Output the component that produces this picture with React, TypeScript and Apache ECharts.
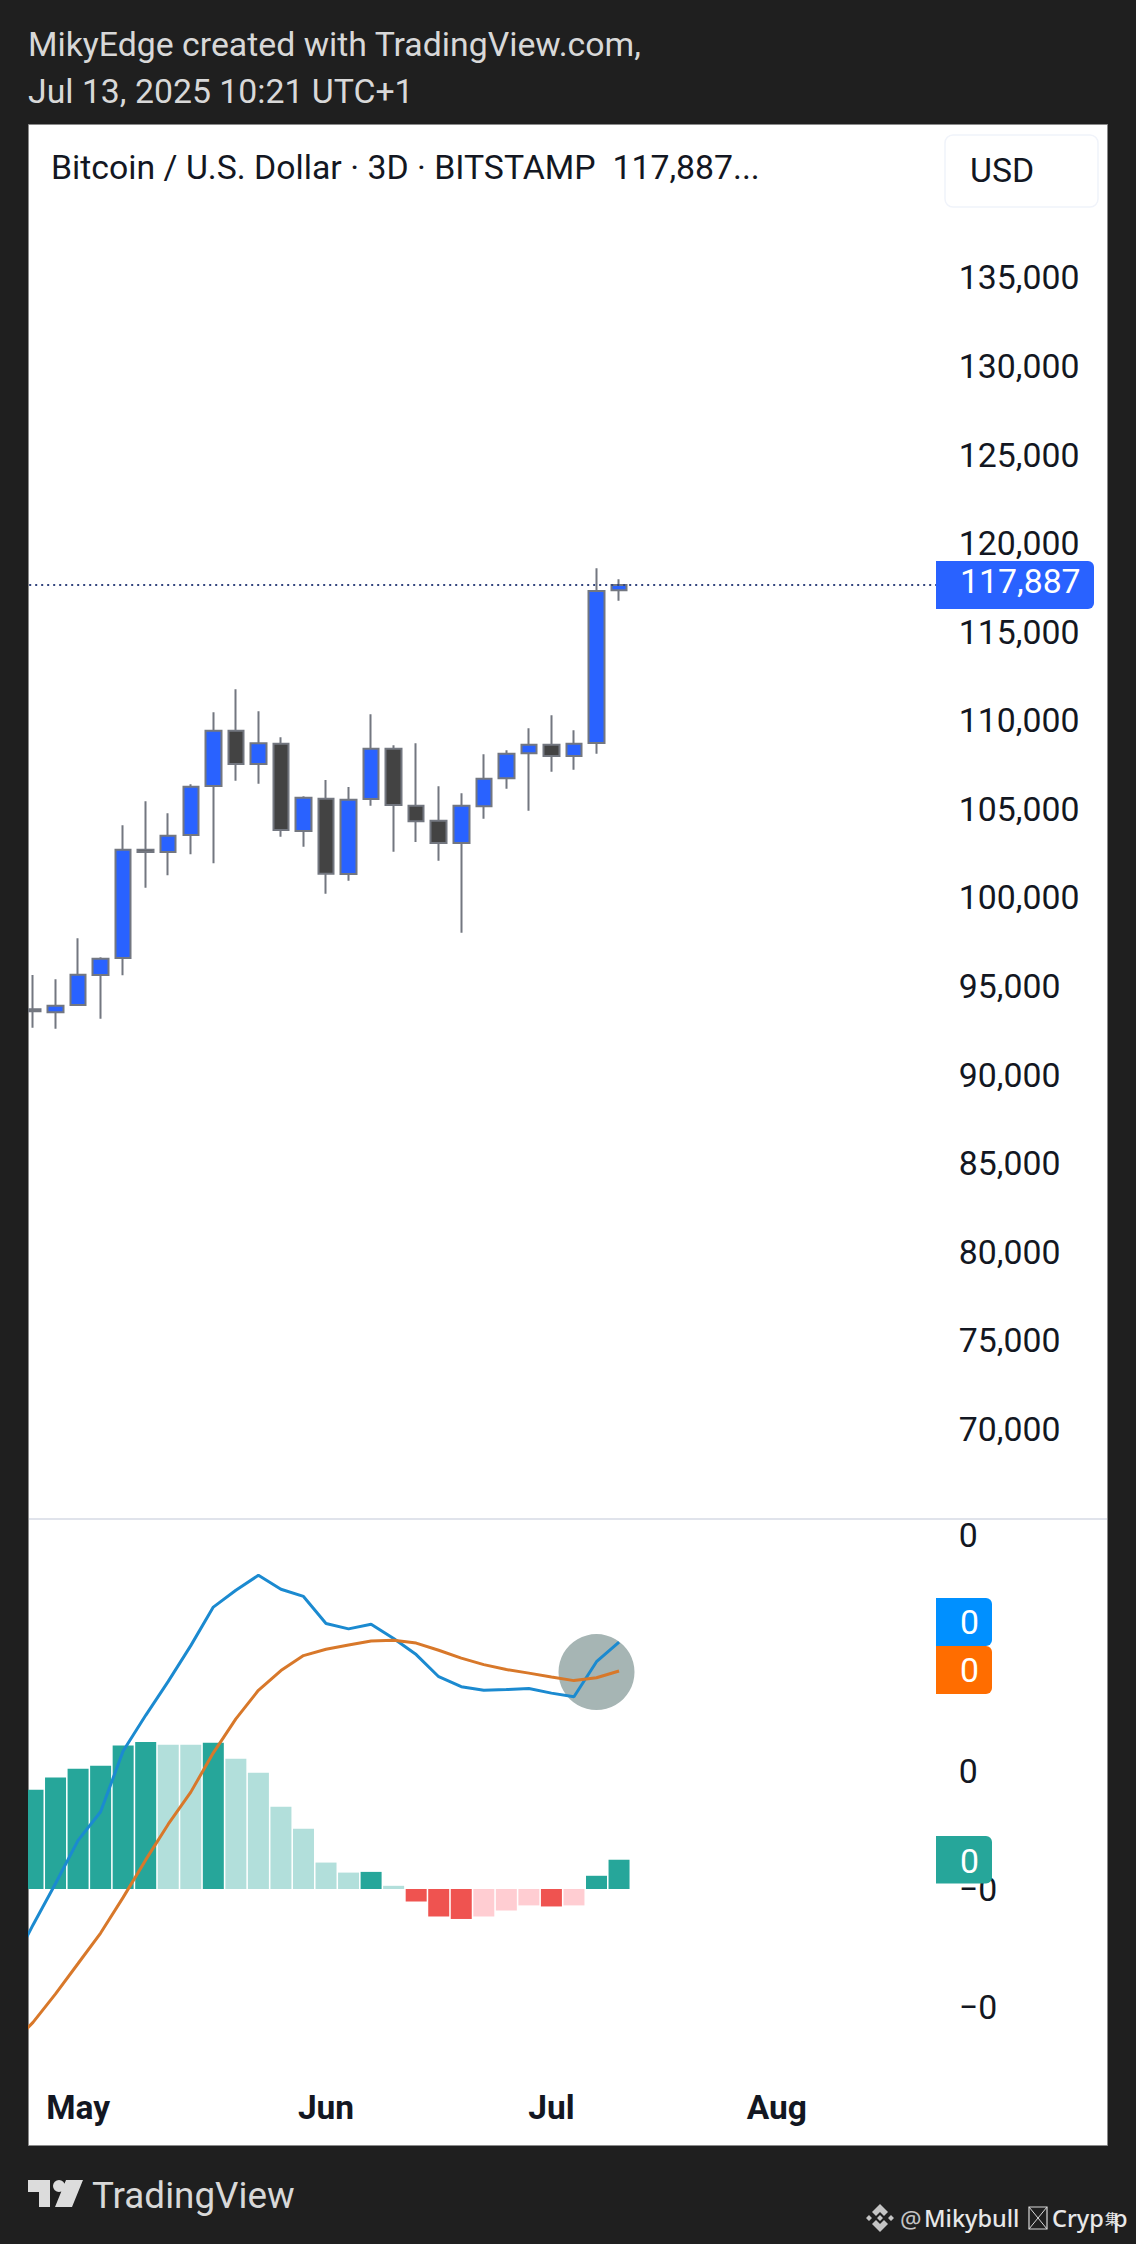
import React, { useEffect, useRef } from "react";
import * as echarts from "echarts";

const startDate = Date.UTC(2025, 3, 22);
const categories: string[] = Array.from({ length: 42 }, (_, i) =>
  new Date(startDate + i * 3 * 86400000).toISOString().slice(0, 10)
);
const monthLabels: Record<string, string> = {
  "2025-05-01": "May",
  "2025-06-03": "Jun",
  "2025-07-03": "Jul",
  "2025-08-02": "Aug",
};

// open, close, low, high — the leading "-" is the bar just left of the visible range
const candles: (number[] | string)[] = [
  "-",
  [93933, 93820, 92898, 95871],
  [93763, 94140, 92842, 95627],
  [94177, 95889, 94177, 97940],
  [95871, 96793, 93406, 96868],
  [96830, 102946, 95852, 104319],
  [102946, 102814, 100801, 105674],
  [102814, 103737, 101497, 104997],
  [103774, 106502, 102683, 106634],
  [106540, 109664, 102174, 110699],
  [109664, 107782, 106841, 111997],
  [107782, 108949, 106672, 110755],
  [108930, 104056, 103680, 109288],
  [103999, 105881, 103115, 105957],
  [105825, 101591, 100462, 106879],
  [101572, 105769, 101196, 106484],
  [105806, 108648, 105430, 110586],
  [108648, 105467, 102833, 108836],
  [105430, 104545, 103379, 108949],
  [104583, 103322, 102325, 106521],
  [103322, 105430, 98261, 106126],
  [105392, 106954, 104696, 108328],
  [106973, 108365, 106389, 108553],
  [108384, 108874, 105148, 109795],
  [108874, 108234, 107349, 110529],
  [108234, 108930, 107462, 109682],
  [108967, 117548, 108365, 118827],
  [117586, 117887, 117002, 118207],
];
const lastPrice = 117887;

const macdLine: number[] = [
  -1354, -609, 93, 825, 1310, 2339, 2944, 3519, 4125, 4778, 5063, 5317, 5081, 4959,
  4500, 4409, 4488, 4246, 3973, 3598, 3429, 3368, 3380, 3398, 3320, 3259, 3852, 4185,
];
const signalLine: number[] = [
  -2654, -2261, -1778, -1263, -747, -142, 493, 1098, 1642, 2308, 2883, 3368, 3702, 3956,
  4064, 4137, 4203, 4215, 4168, 4046, 3914, 3803, 3719, 3659, 3592, 3532, 3580, 3695,
];
const histValues: (number | null)[] = [
  null, 1682, 1888, 2039, 2087, 2432, 2493, 2444, 2444, 2480, 2208, 1972, 1392, 1022,
  448, 278, 290, 54, -212, -466, -508, -466, -363, -278, -296, -278, 224, 496,
];
// d = strong shade, l = pale shade
const histShadeList: string[] = [
  "-", "d", "d", "d", "d", "d", "d", "l", "l", "d", "l", "l", "l", "l",
  "l", "l", "d", "l", "d", "d", "d", "l", "l", "l", "d", "l", "d", "d",
];
const highlightIndex = 26;
const highlightValue = 3676;

const priceTicks = [70000, 135000];

const C = {
  dark: "#1f1f1f",
  up: "#2962ff",
  down: "#434343",
  wick: "#737780",
  blue: "#1b8ad0",
  orange: "#d8782a",
  teal: "#26a69a",
  tealPale: "#b2dfdb",
  red: "#ef5350",
  pink: "#ffcdd2",
};

const FONT = "Roboto, sans-serif";
const NOTO = "'Noto Sans', sans-serif";

echarts.graphic.registerShape(
  "tvLogo",
  echarts.graphic.extendPath(
    "M0 0H22V27H11V12H0Z M37 6a6 6 0 1 1-12 0a6 6 0 1 1 12 0Z M38 0H55L44 27H27Z",
    {}
  )
);
echarts.graphic.registerShape(
  "diamondLogo",
  echarts.graphic.extendPath(
    "M14 0L22 8L18 12L14 8L10 12L6 8Z M14 28L6 20L10 16L14 20L18 16L22 20Z M3 11L6 14L3 17L0 14Z M25 11L28 14L25 17L22 14Z M14 11L17 14L14 17L11 14Z",
    {}
  )
);

function label(text: string, x: number, y: number, size: number, fill: string, extra: any = {}) {
  return {
    type: "text",
    x,
    y,
    z: 60,
    style: {
      text,
      fill,
      fontSize: size,
      fontFamily: FONT,
      verticalAlign: "middle",
      align: "left",
      ...extra,
    },
  };
}

function badge(x: number, y: number, w: number, h: number, fill: string, text: string, tx: number, ty: number) {
  return [
    { type: "rect", z: 55, shape: { x, y, width: w, height: h, r: [0, 6, 6, 0] }, style: { fill } },
    label(text, tx, ty, 33.8, "#ffffff"),
  ];
}

export default function App() {
  const ref = useRef<HTMLDivElement>(null);

  useEffect(() => {
    document.body.style.margin = "0";
    document.body.style.background = C.dark;
    const chart = echarts.init(ref.current!, undefined, { renderer: "svg" });

    const gridLeft = -0.81;
    const gridWidth = 946.68;

    chart.setOption({
      animation: false,
      backgroundColor: C.dark,
      grid: [
        { left: gridLeft, width: gridWidth, top: 104.7, height: 1417.2, outerBoundsMode: "none" },
        { left: gridLeft, width: gridWidth, top: 1535, height: 590, outerBoundsMode: "none" },
        // carries the price labels, which sit 4px above the price they name in the original
        { left: gridLeft, width: gridWidth, top: 100.7, height: 1417.2, outerBoundsMode: "none" },
      ],
      xAxis: [
        {
          type: "category",
          gridIndex: 0,
          data: categories,
          show: false,
        },
        {
          type: "category",
          gridIndex: 1,
          data: categories,
          axisLine: { show: false },
          axisTick: { show: false },
          splitLine: { show: false },
          axisLabel: {
            inside: true,
            margin: 1,
            interval: (_: number, v: string) => v in monthLabels,
            formatter: (v: string) => monthLabels[v] ?? "",
            fontFamily: FONT,
            fontSize: 33.5,
            fontWeight: 700,
            color: "#131722",
          },
        },
        {
          type: "category",
          gridIndex: 2,
          data: categories,
          show: false,
        },
      ],
      yAxis: [
        {
          type: "value",
          gridIndex: 0,
          position: "right",
          min: 65000,
          max: 145000,
          interval: 5000,
          show: false,
        },
        {
          type: "value",
          gridIndex: 1,
          position: "right",
          min: -4000,
          max: 6000,
          interval: 2000,
          axisLine: { show: false },
          axisTick: { show: false },
          splitLine: { show: false },
          axisLabel: {
            margin: 13,
            fontFamily: FONT,
            fontSize: 33.8,
            color: "#131722",
            formatter: (v: number) => (v === -4000 ? "" : v > 0 ? "0" : "\u22120"),
          },
        },
        {
          type: "value",
          gridIndex: 2,
          position: "right",
          min: 65000,
          max: 145000,
          interval: 5000,
          axisLine: { show: false },
          axisTick: { show: false },
          splitLine: { show: false },
          axisLabel: {
            margin: 13,
            fontFamily: FONT,
            fontSize: 33.8,
            color: "#131722",
            formatter: (v: number) =>
              v >= priceTicks[0] && v <= priceTicks[1] ? v.toLocaleString("en-US") : "",
          },
        },
      ],
      series: [
        {
          type: "candlestick",
          xAxisIndex: 0,
          yAxisIndex: 0,
          data: candles,
          barWidth: 16,
          itemStyle: {
            color: C.up,
            color0: C.down,
            borderColor: C.wick,
            borderColor0: C.wick,
            borderWidth: 2,
          },
          markLine: {
            silent: true,
            symbol: "none",
            label: { show: false },
            lineStyle: { color: "#33457e", type: [2, 4], width: 2 },
            data: [{ yAxis: lastPrice }],
          },
        },
        {
          type: "scatter",
          xAxisIndex: 1,
          yAxisIndex: 1,
          z: 1,
          symbolSize: 76,
          itemStyle: { color: "#a6b5b4", opacity: 1 },
          data: [[categories[highlightIndex], highlightValue]],
        },
        {
          type: "bar",
          xAxisIndex: 1,
          yAxisIndex: 1,
          barWidth: 21,
          z: 2,
          data: histValues.map((v, i) => ({
            value: v,
            itemStyle: {
              color:
                (v ?? 0) >= 0
                  ? histShadeList[i] === "d" ? C.teal : C.tealPale
                  : histShadeList[i] === "d" ? C.red : C.pink,
            },
          })),
        },
        {
          type: "line",
          xAxisIndex: 1,
          yAxisIndex: 1,
          z: 3,
          data: macdLine,
          symbol: "none",
          lineStyle: { color: C.blue, width: 3 },
        },
        {
          type: "line",
          xAxisIndex: 1,
          yAxisIndex: 1,
          z: 4,
          data: signalLine,
          symbol: "none",
          lineStyle: { color: C.orange, width: 3 },
        },
      ],
      graphic: {
        elements: [
          {
            type: "rect",
            z: -1,
            shape: { x: 28.5, y: 124.5, width: 1079, height: 2021 },
            style: { fill: "#ffffff", stroke: "#8a8a8a", lineWidth: 1 },
          },
          { type: "rect", z: 50, shape: { x: 0, y: 100, width: 28, height: 2060 }, style: { fill: C.dark } },
          {
            type: "rect",
            z: 1,
            shape: { x: 29, y: 1518, width: 1078, height: 2 },
            style: { fill: "#e0e3eb" },
          },
          label("MikyEdge created with TradingView.com,", 28, 44, 33.8, "#d8d8d8"),
          label("Jul 13, 2025 10:21 UTC+1", 28, 91, 33.8, "#d8d8d8"),
          label("Bitcoin / U.S. Dollar \u00b7 3D \u00b7 BITSTAMP  117,887...", 51, 167, 33.8, "#131722"),
          {
            type: "rect",
            z: 55,
            shape: { x: 945, y: 135, width: 153, height: 72, r: 8 },
            style: { fill: "#ffffff", stroke: "#f0f3fa", lineWidth: 1.5 },
          },
          label("USD", 970, 170, 33.8, "#131722"),
          ...badge(936, 561, 158, 48, "#2962ff", lastPrice.toLocaleString("en-US"), 960, 581),
          ...badge(936, 1598, 56, 48, "#0090ff", "0", 960, 1622),
          ...badge(936, 1646, 56, 48, "#ff6d00", "0", 960, 1670),
          ...badge(936, 1836, 56, 47.5, C.teal, "0", 960, 1861),
          { type: "tvLogo", x: 28, y: 2180, z: 60, style: { fill: "#dcdcdc" } },
          label("TradingView", 92, 2195, 36.8, "#d8d8d8"),
          { type: "diamondLogo", x: 866, y: 2204, z: 60, style: { fill: "#c4c4c4" } },
          label("@", 900, 2218, 24, "#c4c4c4", { fontFamily: NOTO }),
          label("Mikybull", 924, 2218, 23.5, "#e8e8e8", { fontFamily: NOTO, fontWeight: 500 }),
          {
            type: "rect",
            z: 60,
            shape: { x: 1029, y: 2207, width: 18, height: 22 },
            style: { fill: "none", stroke: "#d8d8d8", lineWidth: 1.2 },
          },
          { type: "line", z: 60, shape: { x1: 1029, y1: 2207, x2: 1047, y2: 2229 }, style: { stroke: "#d8d8d8", lineWidth: 1 } },
          { type: "line", z: 60, shape: { x1: 1047, y1: 2207, x2: 1029, y2: 2229 }, style: { stroke: "#d8d8d8", lineWidth: 1 } },
          label("Cryp", 1052, 2218, 23.5, "#e8e8e8", { fontFamily: NOTO, fontWeight: 500 }),
          label("p", 1113, 2218, 23.5, "#e8e8e8", { fontFamily: NOTO, fontWeight: 500 }),
          label("\u96c6", 1105, 2218, 14, "#e8e8e8", { fontFamily: "'Noto Sans CJK SC', sans-serif" }),
        ],
      },
    });

    return () => chart.dispose();
  }, []);

  return (
    <div
      ref={ref}
      style={{ position: "absolute", left: 0, top: 0, width: 1136, height: 2244 }}
    />
  );
}
